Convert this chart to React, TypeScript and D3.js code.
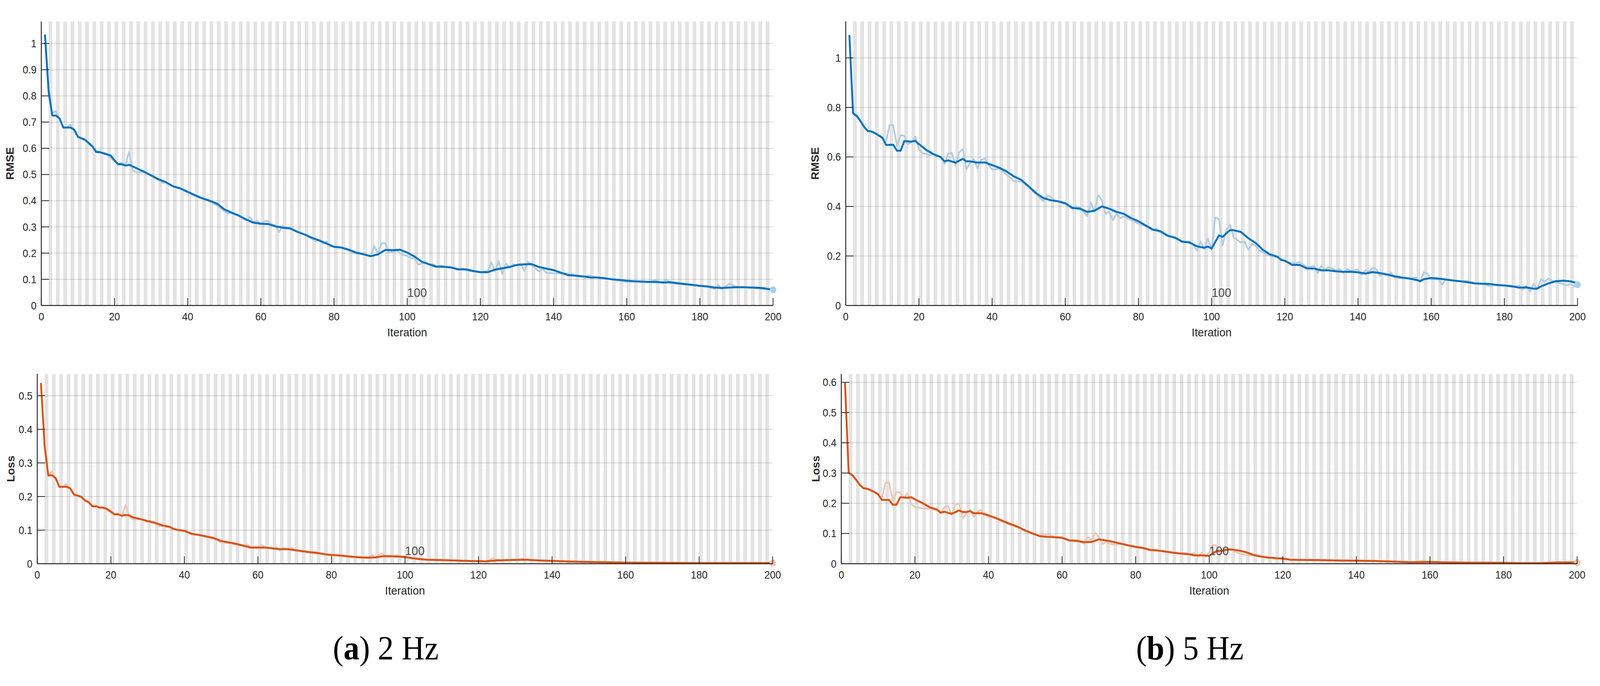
import * as d3 from "d3";

// ---- data: [iteration, value] ----
const RMSE_2HZ_SMOOTH: [number, number][] = [
  [1, 1.034], [2, 0.82], [3, 0.725], [4, 0.725], [5, 0.714], [6, 0.679], [8, 0.679], [9, 0.671],
  [10, 0.644], [12, 0.632], [14, 0.607], [15, 0.586], [16, 0.585], [18, 0.577], [19, 0.572],
  [20, 0.554], [21, 0.539], [22, 0.539], [23, 0.534], [24, 0.537], [26, 0.524], [28, 0.511],
  [30, 0.497], [32, 0.482], [34, 0.471], [36, 0.455], [38, 0.447], [40, 0.434], [42, 0.421],
  [44, 0.409], [46, 0.4], [48, 0.389], [50, 0.367], [52, 0.354], [54, 0.343], [56, 0.328],
  [58, 0.316], [60, 0.312], [62, 0.311], [64, 0.302], [66, 0.297], [68, 0.294], [70, 0.281],
  [72, 0.271], [74, 0.258], [76, 0.248], [78, 0.236], [80, 0.224], [82, 0.221], [84, 0.213],
  [86, 0.202], [88, 0.196], [90, 0.188], [92, 0.195], [94, 0.212], [96, 0.211], [98, 0.213],
  [100, 0.202], [102, 0.187], [104, 0.167], [106, 0.157], [108, 0.148], [110, 0.148], [112, 0.145],
  [114, 0.138], [116, 0.138], [118, 0.132], [120, 0.127], [122, 0.127], [124, 0.137], [126, 0.142],
  [128, 0.147], [130, 0.155], [132, 0.157], [134, 0.158], [136, 0.147], [138, 0.141], [140, 0.135],
  [142, 0.125], [144, 0.116], [146, 0.114], [148, 0.111], [150, 0.107], [152, 0.107], [154, 0.104],
  [156, 0.1], [158, 0.0975], [160, 0.0945], [162, 0.0925], [164, 0.0915], [166, 0.09], [168, 0.09],
  [170, 0.0876], [172, 0.0886], [174, 0.085], [176, 0.0816], [178, 0.0786], [180, 0.0751],
  [182, 0.0726], [184, 0.0687], [186, 0.0667], [188, 0.0687], [190, 0.0697], [192, 0.0697],
  [194, 0.0687], [196, 0.0677], [198, 0.0647], [200, 0.06],
];

const RMSE_2HZ_RAW: [number, number][] = [
  [1, 1.034], [2, 0.8], [3, 0.735], [4, 0.742], [5, 0.71], [6, 0.68], [7, 0.68], [8, 0.69],
  [9, 0.665], [10, 0.645], [12, 0.63], [14, 0.605], [15, 0.59], [16, 0.585], [18, 0.575],
  [20, 0.55], [21, 0.54], [22, 0.545], [23, 0.537], [24, 0.587], [25, 0.515], [26, 0.508],
  [28, 0.51], [30, 0.495], [32, 0.478], [33, 0.468], [34, 0.47], [36, 0.455], [38, 0.445],
  [40, 0.432], [42, 0.418], [44, 0.408], [46, 0.398], [48, 0.382], [50, 0.36], [51, 0.351],
  [52, 0.357], [54, 0.342], [56, 0.325], [57, 0.338], [58, 0.318], [59, 0.323], [60, 0.31],
  [61, 0.322], [62, 0.322], [63, 0.31], [64, 0.305], [65, 0.28], [66, 0.305], [67, 0.293],
  [68, 0.3], [69, 0.29], [70, 0.28], [72, 0.27], [74, 0.255], [75, 0.245], [76, 0.25],
  [77, 0.237], [78, 0.245], [79, 0.225], [80, 0.225], [82, 0.222], [84, 0.21], [86, 0.198],
  [88, 0.195], [89, 0.192], [90, 0.19], [91, 0.227], [92, 0.2], [93, 0.238], [94, 0.238],
  [95, 0.203], [96, 0.205], [97, 0.21], [98, 0.2], [99, 0.192], [100, 0.19], [101, 0.182],
  [102, 0.18], [103, 0.157], [104, 0.16], [105, 0.167], [106, 0.155], [107, 0.158], [108, 0.15],
  [109, 0.153], [110, 0.148], [112, 0.146], [114, 0.137], [115, 0.142], [116, 0.135], [118, 0.13],
  [120, 0.127], [122, 0.132], [123, 0.165], [124, 0.13], [125, 0.17], [126, 0.12], [127, 0.16],
  [128, 0.145], [129, 0.158], [130, 0.152], [131, 0.16], [132, 0.132], [133, 0.167], [134, 0.155],
  [135, 0.142], [136, 0.13], [137, 0.14], [138, 0.125], [140, 0.123], [141, 0.122], [142, 0.125],
  [144, 0.12], [145, 0.12], [146, 0.112], [148, 0.11], [150, 0.114], [152, 0.105], [154, 0.103],
  [156, 0.1], [158, 0.095], [160, 0.09], [162, 0.092], [164, 0.09], [166, 0.09], [168, 0.0975],
  [169, 0.087], [171, 0.097], [172, 0.085], [174, 0.082], [176, 0.08], [178, 0.078], [180, 0.074],
  [182, 0.072], [184, 0.063], [185, 0.078], [186, 0.063], [188, 0.083], [190, 0.071], [192, 0.07],
  [194, 0.068], [196, 0.065], [198, 0.063], [200, 0.06],
];

const RMSE_5HZ_SMOOTH: [number, number][] = [
  [1, 1.092], [2, 0.776], [3, 0.765], [4, 0.746], [5, 0.722], [6, 0.705], [7, 0.703], [8, 0.696],
  [10, 0.678], [11, 0.649], [13, 0.649], [14, 0.625], [15, 0.625], [16, 0.664], [18, 0.662],
  [19, 0.665], [20, 0.652], [22, 0.628], [24, 0.611], [26, 0.599], [27, 0.582], [28, 0.586],
  [30, 0.577], [32, 0.592], [33, 0.582], [34, 0.582], [36, 0.577], [38, 0.578], [40, 0.567],
  [42, 0.556], [44, 0.541], [46, 0.521], [48, 0.507], [50, 0.481], [52, 0.454], [54, 0.434],
  [56, 0.425], [58, 0.421], [60, 0.413], [62, 0.394], [64, 0.391], [66, 0.378], [68, 0.383],
  [70, 0.4], [72, 0.391], [74, 0.378], [76, 0.37], [78, 0.353], [80, 0.34], [82, 0.323],
  [84, 0.306], [86, 0.3], [88, 0.282], [90, 0.274], [92, 0.258], [94, 0.254], [96, 0.239],
  [98, 0.233], [99, 0.238], [100, 0.23], [102, 0.283], [103, 0.277], [104, 0.291], [105, 0.304],
  [106, 0.304], [108, 0.297], [110, 0.272], [112, 0.253], [114, 0.225], [116, 0.206], [118, 0.197],
  [119, 0.184], [120, 0.181], [122, 0.164], [124, 0.164], [126, 0.15], [128, 0.149], [130, 0.142],
  [132, 0.142], [134, 0.138], [136, 0.136], [138, 0.136], [140, 0.134], [142, 0.129], [144, 0.135],
  [146, 0.131], [148, 0.125], [150, 0.118], [152, 0.113], [154, 0.109], [156, 0.103], [157, 0.098],
  [158, 0.106], [160, 0.111], [162, 0.109], [164, 0.105], [166, 0.101], [168, 0.098], [170, 0.094],
  [172, 0.089], [174, 0.088], [176, 0.087], [178, 0.083], [180, 0.081], [182, 0.078], [184, 0.072],
  [186, 0.073], [188, 0.068], [189, 0.068], [190, 0.077], [192, 0.089], [194, 0.098], [196, 0.1],
  [198, 0.098], [200, 0.09],
];

const RMSE_5HZ_RAW: [number, number][] = [
  [1, 1.092], [2, 0.776], [3, 0.77], [4, 0.745], [5, 0.72], [6, 0.705], [7, 0.703], [8, 0.696],
  [10, 0.675], [11, 0.66], [12, 0.729], [13, 0.729], [14, 0.643], [15, 0.688], [16, 0.685],
  [17, 0.652], [18, 0.66], [19, 0.682], [20, 0.631], [21, 0.614], [22, 0.612], [23, 0.607],
  [24, 0.61], [25, 0.605], [26, 0.6], [27, 0.571], [28, 0.614], [29, 0.616], [30, 0.566],
  [31, 0.618], [32, 0.632], [33, 0.551], [34, 0.575], [35, 0.592], [36, 0.554], [37, 0.588],
  [38, 0.594], [39, 0.57], [40, 0.549], [42, 0.552], [44, 0.528], [46, 0.502], [48, 0.5],
  [50, 0.478], [52, 0.45], [54, 0.421], [55, 0.443], [56, 0.44], [57, 0.425], [58, 0.42],
  [60, 0.41], [62, 0.39], [63, 0.4], [64, 0.395], [66, 0.361], [67, 0.417], [68, 0.378],
  [69, 0.447], [70, 0.425], [71, 0.37], [72, 0.378], [73, 0.344], [74, 0.37], [75, 0.353],
  [76, 0.36], [78, 0.345], [80, 0.33], [82, 0.32], [84, 0.305], [85, 0.31], [86, 0.295],
  [88, 0.28], [90, 0.272], [92, 0.255], [94, 0.26], [95, 0.245], [96, 0.222], [97, 0.258],
  [98, 0.228], [99, 0.271], [100, 0.225], [101, 0.355], [102, 0.349], [103, 0.242], [104, 0.305],
  [105, 0.327], [106, 0.275], [107, 0.265], [108, 0.255], [109, 0.258], [110, 0.225], [111, 0.25],
  [112, 0.242], [113, 0.222], [114, 0.215], [116, 0.2], [118, 0.195], [120, 0.18], [122, 0.17],
  [124, 0.175], [126, 0.155], [128, 0.159], [129, 0.131], [130, 0.161], [131, 0.145], [132, 0.155],
  [134, 0.142], [135, 0.147], [136, 0.131], [137, 0.147], [138, 0.14], [140, 0.145], [141, 0.123],
  [142, 0.142], [143, 0.137], [144, 0.153], [145, 0.147], [146, 0.12], [147, 0.128], [148, 0.122],
  [149, 0.133], [150, 0.112], [152, 0.11], [154, 0.11], [156, 0.112], [157, 0.095], [158, 0.134],
  [159, 0.128], [160, 0.106], [162, 0.105], [163, 0.084], [164, 0.106], [166, 0.1], [168, 0.097],
  [170, 0.1], [172, 0.09], [174, 0.087], [176, 0.078], [178, 0.083], [180, 0.08], [182, 0.075],
  [184, 0.08], [185, 0.064], [186, 0.08], [187, 0.056], [188, 0.087], [189, 0.068], [190, 0.106],
  [191, 0.095], [192, 0.109], [193, 0.1], [194, 0.095], [196, 0.087], [197, 0.081], [198, 0.087],
  [199, 0.078], [200, 0.084],
];

const LOSS_2HZ_SMOOTH: [number, number][] = [
  [1, 0.538], [2, 0.352], [3, 0.263], [4, 0.263], [5, 0.255], [6, 0.229], [8, 0.229], [9, 0.224],
  [10, 0.206], [12, 0.199], [13, 0.188], [14, 0.183], [15, 0.171], [16, 0.171], [17, 0.167],
  [18, 0.167], [19, 0.163], [20, 0.155], [21, 0.147], [22, 0.147], [23, 0.143], [24, 0.145],
  [25, 0.144], [26, 0.138], [28, 0.133], [30, 0.127], [32, 0.122], [34, 0.114], [36, 0.11],
  [37, 0.104], [38, 0.101], [40, 0.098], [42, 0.089], [44, 0.0856], [46, 0.081], [48, 0.0764],
  [50, 0.0676], [52, 0.0637], [54, 0.0593], [56, 0.054], [58, 0.048], [60, 0.048], [62, 0.048],
  [64, 0.0457], [66, 0.0432], [68, 0.0432], [70, 0.0408], [72, 0.0374], [74, 0.0345], [76, 0.0325],
  [78, 0.0286], [80, 0.0262], [82, 0.0247], [84, 0.0228], [86, 0.0204], [88, 0.0189], [90, 0.0179],
  [92, 0.0189], [94, 0.0223], [96, 0.0223], [98, 0.0213], [100, 0.02], [102, 0.0165], [104, 0.014],
  [106, 0.012], [110, 0.0108], [115, 0.0089], [120, 0.0076], [122, 0.007], [125, 0.01], [130, 0.0114],
  [133, 0.012], [136, 0.01], [140, 0.0083], [145, 0.0064], [150, 0.0051], [155, 0.0045],
  [160, 0.0032], [170, 0.0025], [180, 0.0019], [190, 0.0019], [200, 0.0019],
];

const LOSS_2HZ_RAW: [number, number][] = [
  [1, 0.538], [2, 0.345], [3, 0.26], [4, 0.275], [5, 0.255], [6, 0.228], [7, 0.228], [8, 0.237],
  [9, 0.222], [10, 0.205], [12, 0.198], [14, 0.182], [15, 0.17], [16, 0.17], [18, 0.166],
  [20, 0.153], [21, 0.145], [22, 0.15], [23, 0.14], [24, 0.175], [25, 0.14], [26, 0.132],
  [27, 0.132], [28, 0.133], [30, 0.125], [32, 0.12], [33, 0.111], [34, 0.113], [36, 0.108],
  [38, 0.1], [40, 0.097], [42, 0.088], [44, 0.085], [46, 0.08], [48, 0.075], [50, 0.063],
  [52, 0.062], [54, 0.058], [56, 0.053], [57, 0.058], [58, 0.05], [60, 0.05], [61, 0.0554],
  [62, 0.05], [64, 0.045], [65, 0.049], [66, 0.039], [67, 0.047], [68, 0.043], [69, 0.048],
  [70, 0.04], [72, 0.036], [74, 0.033], [76, 0.03], [78, 0.029], [80, 0.025], [82, 0.024],
  [84, 0.022], [86, 0.02], [88, 0.019], [90, 0.017], [91, 0.027], [92, 0.017], [93, 0.0286],
  [94, 0.0296], [95, 0.021], [96, 0.02], [98, 0.025], [100, 0.02], [102, 0.015], [104, 0.013],
  [106, 0.012], [110, 0.011], [115, 0.009], [120, 0.0075], [122, 0.007], [124, 0.0165],
  [126, 0.009], [128, 0.011], [130, 0.012], [132, 0.014], [134, 0.011], [136, 0.01], [140, 0.008],
  [145, 0.006], [150, 0.005], [155, 0.004], [160, 0.003], [170, 0.0025], [180, 0.002],
  [190, 0.002], [200, 0.0019],
];

const LOSS_5HZ_SMOOTH: [number, number][] = [
  [1, 0.598], [2, 0.301], [3, 0.293], [4, 0.278], [5, 0.261], [6, 0.25], [7, 0.248], [8, 0.243],
  [9, 0.237], [10, 0.23], [11, 0.211], [13, 0.211], [14, 0.195], [15, 0.195], [16, 0.22],
  [18, 0.218], [19, 0.22], [20, 0.213], [22, 0.201], [24, 0.187], [26, 0.179], [27, 0.169],
  [28, 0.172], [30, 0.165], [32, 0.176], [33, 0.171], [34, 0.171], [35, 0.174], [36, 0.167],
  [38, 0.167], [40, 0.16], [42, 0.151], [44, 0.141], [46, 0.131], [48, 0.122], [50, 0.11],
  [52, 0.1], [54, 0.091], [56, 0.089], [58, 0.0876], [60, 0.0862], [62, 0.077], [64, 0.0756],
  [66, 0.0714], [68, 0.072], [70, 0.0806], [72, 0.077], [74, 0.072], [76, 0.0664], [78, 0.0608],
  [80, 0.0558], [82, 0.0523], [84, 0.0452], [86, 0.0438], [88, 0.0403], [90, 0.0367], [92, 0.0339],
  [94, 0.0325], [96, 0.0276], [98, 0.0276], [100, 0.0261], [101, 0.0346], [102, 0.0417],
  [104, 0.0438], [105, 0.0473], [106, 0.0473], [108, 0.0438], [110, 0.0382], [112, 0.029],
  [114, 0.024], [116, 0.0205], [118, 0.0184], [120, 0.017], [122, 0.0134], [125, 0.0127],
  [130, 0.012], [135, 0.0106], [140, 0.0099], [145, 0.0092], [150, 0.0071], [155, 0.005],
  [160, 0.0057], [165, 0.0042], [170, 0.0035], [180, 0.0028], [185, 0.0021], [190, 0.0021],
  [195, 0.0042], [200, 0.0042],
];

const LOSS_5HZ_RAW: [number, number][] = [
  [1, 0.598], [2, 0.301], [3, 0.293], [4, 0.278], [5, 0.26], [6, 0.25], [7, 0.248], [8, 0.243],
  [9, 0.237], [10, 0.228], [11, 0.215], [12, 0.268], [13, 0.268], [14, 0.208], [15, 0.238],
  [16, 0.235], [17, 0.218], [18, 0.232], [19, 0.2], [20, 0.187], [21, 0.185], [22, 0.183],
  [24, 0.182], [26, 0.178], [27, 0.168], [28, 0.187], [29, 0.19], [30, 0.162], [31, 0.194],
  [32, 0.2], [33, 0.151], [34, 0.165], [35, 0.179], [36, 0.155], [37, 0.172], [38, 0.178],
  [39, 0.165], [40, 0.155], [42, 0.152], [44, 0.138], [46, 0.128], [48, 0.12], [50, 0.108],
  [52, 0.098], [54, 0.092], [55, 0.098], [56, 0.098], [58, 0.088], [60, 0.085], [62, 0.078],
  [64, 0.078], [66, 0.066], [67, 0.088], [68, 0.078], [69, 0.102], [70, 0.088], [71, 0.066],
  [72, 0.071], [74, 0.063], [76, 0.066], [78, 0.06], [80, 0.055], [82, 0.05], [84, 0.046],
  [86, 0.043], [88, 0.04], [90, 0.036], [92, 0.034], [94, 0.03], [96, 0.035], [97, 0.024],
  [98, 0.037], [99, 0.024], [100, 0.038], [101, 0.063], [102, 0.059], [103, 0.027], [104, 0.049],
  [106, 0.045], [108, 0.035], [110, 0.028], [112, 0.028], [114, 0.024], [116, 0.02], [118, 0.018],
  [120, 0.016], [122, 0.013], [125, 0.012], [130, 0.012], [135, 0.01], [140, 0.0095], [145, 0.009],
  [150, 0.007], [155, 0.005], [158, 0.0099], [160, 0.006], [165, 0.004], [170, 0.0035],
  [180, 0.0025], [185, 0.002], [190, 0.002], [195, 0.005], [200, 0.0042],
];

const X_TICKS = [0, 20, 40, 60, 80, 100, 120, 140, 160, 180, 200];
const RMSE_2HZ_TICKS = [0, 0.1, 0.2, 0.3, 0.4, 0.5, 0.6, 0.7, 0.8, 0.9, 1];
const RMSE_5HZ_TICKS = [0, 0.2, 0.4, 0.6, 0.8, 1];
const LOSS_2HZ_TICKS = [0, 0.1, 0.2, 0.3, 0.4, 0.5];
const LOSS_5HZ_TICKS = [0, 0.1, 0.2, 0.3, 0.4, 0.5, 0.6];
const CAPTIONS = [
  { letter: "a", rest: " 2 Hz" },
  { letter: "b", rest: " 5 Hz" },
];
const MARK_ITER = 100;

const BLUE = "#0072bd";
const BLUE_RAW = "#b5cde0";
const BLUE_END = "#a9cfea";
const ORANGE = "#d95319";
const ORANGE_RAW = "#e9c8ba";
const ORANGE_END = "#f3c3ad";
const INK = "#262626";
const SANS = '"Liberation Sans", Arial, sans-serif';
const SERIF = '"Liberation Serif", "Times New Roman", serif';

interface PanelProps {
  left: number;
  right: number;
  top: number;
  bottom: number;
  yMax: number;
  yTicks: number[];
  label: string;
  labelX: number;
  smooth: [number, number][];
  raw: [number, number][];
  color: string;
  rawColor: string;
  endColor: string;
}

function Panel(p: PanelProps) {
  const x = d3.scaleLinear().domain([0, 200]).range([p.left, p.right]);
  const y = d3.scaleLinear().domain([0, p.yMax]).range([p.bottom, p.top]);
  const line = d3
    .line<[number, number]>()
    .x((d) => x(d[0]))
    .y((d) => y(d[1]));

  // alternating epoch shading, one iteration wide
  const stripes = d3.range(2, 200, 2);
  const last = p.raw[p.raw.length - 1];

  return (
    <g>
      {stripes.map((s) => (
        <rect key={s} x={x(s)} y={p.top} width={x(s + 1) - x(s)} height={p.bottom - p.top} fill="#e3e3e3" />
      ))}
      {p.yTicks.filter((t) => t > 0).map((t) => (
        <line key={t} x1={p.left} x2={p.right} y1={y(t)} y2={y(t)} stroke="rgba(0,0,0,0.15)" strokeWidth={2} />
      ))}
      <path d={line(p.raw) ?? ""} fill="none" stroke={p.rawColor} strokeWidth={4.5} strokeLinejoin="round" />
      <path d={line(p.smooth) ?? ""} fill="none" stroke={p.color} strokeWidth={5} strokeLinejoin="round" />
      <circle cx={x(last[0])} cy={y(last[1])} r={9} fill={p.endColor} />
      <text x={x(MARK_ITER)} y={p.bottom - 22} fontFamily={SANS} fontSize={32} fill="#4d4d4d">
        {MARK_ITER}
      </text>

      {/* axes */}
      <line x1={p.left} x2={p.left} y1={p.top} y2={p.bottom} stroke={INK} strokeWidth={2.5} />
      <line x1={p.left} x2={p.right} y1={p.bottom} y2={p.bottom} stroke={INK} strokeWidth={2.5} />
      {p.yTicks.map((t) => (
        <g key={t}>
          <line x1={p.left} x2={p.left + 21} y1={y(t)} y2={y(t)} stroke={INK} strokeWidth={2} />
          <text x={p.left - 13} y={y(t)} dy="0.36em" textAnchor="end" fontFamily={SANS} fontSize={27} fill={INK}>
            {d3.format("~g")(t)}
          </text>
        </g>
      ))}
      {X_TICKS.map((t) => (
        <g key={t}>
          <line x1={x(t)} x2={x(t)} y1={p.bottom} y2={p.bottom - 19} stroke={INK} strokeWidth={2} />
          <text x={x(t)} y={p.bottom + 38} textAnchor="middle" fontFamily={SANS} fontSize={27} fill={INK}>
            {t}
          </text>
        </g>
      ))}
      <text x={(p.left + p.right) / 2} y={p.bottom + 79} textAnchor="middle" fontFamily={SANS} fontSize={30} fill={INK}>
        Iteration
      </text>
      <text
        transform={`translate(${p.labelX},${(p.top + p.bottom) / 2}) rotate(-90)`}
        textAnchor="middle"
        dy="0.35em"
        fontFamily={SANS}
        fontSize={29}
        fontWeight="bold"
        fill={INK}
      >
        {p.label}
      </text>
    </g>
  );
}

export default function App() {
  const W = 4338;
  const H = 1756;
  const captionX = [1046, 3226];

  return (
    <svg
      viewBox={`0 0 ${W} ${H}`}
      preserveAspectRatio="none"
      style={{ position: "fixed", left: 0, top: 0, width: "100vw", height: "100vh", display: "block", background: "#fff" }}
    >
      <rect width={W} height={H} fill="#fff" />
      <Panel left={112} right={2096} top={55} bottom={782} yMax={1.084} yTicks={RMSE_2HZ_TICKS} label="RMSE" labelX={27}
        smooth={RMSE_2HZ_SMOOTH} raw={RMSE_2HZ_RAW} color={BLUE} rawColor={BLUE_RAW} endColor={BLUE_END} />
      <Panel left={2293} right={4277} top={55} bottom={782} yMax={1.147} yTicks={RMSE_5HZ_TICKS} label="RMSE" labelX={2210}
        smooth={RMSE_5HZ_SMOOTH} raw={RMSE_5HZ_RAW} color={BLUE} rawColor={BLUE_RAW} endColor={BLUE_END} />
      <Panel left={101} right={2095} top={957} bottom={1443} yMax={0.565} yTicks={LOSS_2HZ_TICKS} label="Loss" labelX={29}
        smooth={LOSS_2HZ_SMOOTH} raw={LOSS_2HZ_RAW} color={ORANGE} rawColor={ORANGE_RAW} endColor={ORANGE_END} />
      <Panel left={2281} right={4276} top={957} bottom={1443} yMax={0.628} yTicks={LOSS_5HZ_TICKS} label="Loss" labelX={2212}
        smooth={LOSS_5HZ_SMOOTH} raw={LOSS_5HZ_RAW} color={ORANGE} rawColor={ORANGE_RAW} endColor={ORANGE_END} />

      {CAPTIONS.map((c, i) => (
        <text key={c.letter} x={captionX[i]} y={1688} textAnchor="middle" fontFamily={SERIF} fontSize={86} fill="#000">
          {"("}
          <tspan fontWeight="bold">{c.letter}</tspan>
          {")" + c.rest}
        </text>
      ))}
    </svg>
  );
}
